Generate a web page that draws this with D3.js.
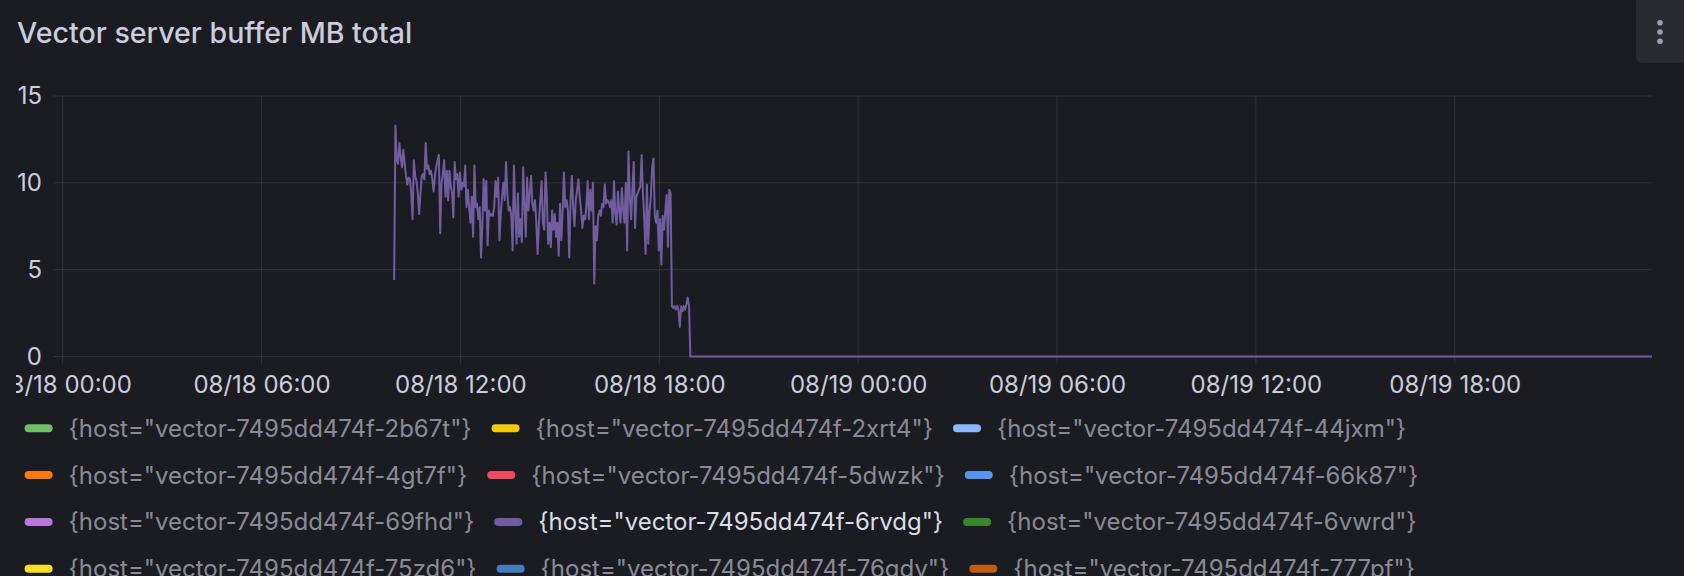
<!DOCTYPE html>
<html lang="en">
<head>
<meta charset="utf-8">
<title>Vector server buffer MB total</title>
<script src="https://cdn.jsdelivr.net/npm/d3@7"></script>
<style>
  html, body { margin: 0; padding: 0; background: #1b1c21; }
  svg { display: block; font-family: Inter, "Noto Sans", sans-serif; }
</style>
</head>
<body>
<div id="chart"></div>
<script>
// panel data
var title = "Vector server buffer MB total";

var hosts = [
  "2b67t", "2xrt4", "44jxm",
  "4gt7f", "5dwzk", "66k87",
  "69fhd", "6rvdg", "6vwrd",
  "75zd6", "76gdv", "777pf"
];
var hostColors = [
  "#73BF69", "#F2CC0C", "#8AB8FF",
  "#FF780A", "#F2495C", "#5794F2",
  "#B877D9", "#705DA0", "#37872D",
  "#FADE2A", "#447EBC", "#C15C17"
];
var activeHost = "6rvdg";

// time range shown and tick labels
var timeRange = ["2023-08-17 23:57", "2023-08-19 23:57"];
var xTicks = ["2023-08-18 00:00", "2023-08-18 06:00", "2023-08-18 12:00", "2023-08-18 18:00",
              "2023-08-19 00:00", "2023-08-19 06:00", "2023-08-19 12:00", "2023-08-19 18:00"];
var yTicks = [0, 5, 10, 15];

// the only series with data (host 6rvdg), sampled every ~143 s from 10:00
var bufferStart = "2023-08-18 10:00";
var bufferStepSec = 143;
var bufferValues = [
  4.4, 13.3, 11.3, 11.1, 12.3, 11.5, 10.9, 11.9, 11.1, 10.4, 9.9, 10.3,
  10.2, 9.4, 7.9, 11.3, 10.4, 10.1, 9.4, 8.2, 9.4, 10.4,
  10.5, 10.2, 12.3, 10.8, 11.0, 10.5, 10.7, 10.2, 9.5, 10.4,
  10.9, 11.3, 11.6, 7.1, 10.0, 10.5, 11.3, 9.2, 10.7, 9.0,
  10.7, 9.8, 9.4, 8.0, 11.2, 10.2, 10.5, 9.2, 10.6, 9.6,
  10.0, 9.8, 11.0, 8.6, 9.6, 8.6, 7.7, 9.2, 6.9, 11.0,
  8.6, 8.8, 7.9, 8.6, 5.7, 7.5, 10.2, 8.4, 10.1, 6.4, 8.4, 8.1,
  8.2, 8.1, 8.6, 10.1, 9.2, 10.3, 6.7, 8.2, 9.2, 10.0,
  9.0, 11.2, 9.4, 8.4, 8.6, 8.1, 6.1, 11.0, 8.4, 6.5,
  9.4, 6.9, 7.9, 6.6, 10.9, 8.8, 6.9, 10.3, 8.4, 9.4,
  10.4, 8.8, 8.4, 9.0, 7.7, 5.9, 7.7, 9.0, 10.1, 7.7,
  7.3, 10.6, 9.2, 6.5, 7.7, 6.3, 8.4, 7.3, 8.2, 6.9,
  7.7, 5.8, 8.8, 6.7, 8.4, 10.6, 8.6, 9.0, 8.4, 5.7,
  9.0, 10.4, 8.6, 7.5, 9.0, 9.6, 10.2, 9.2, 8.4, 7.4,
  8.1, 7.9, 8.6, 10.1,
  7.9, 9.6, 8.4, 10.0, 4.2, 7.5, 6.7, 8.1, 8.4, 8.1,
  8.8, 8.6, 9.9, 8.8, 9.0, 8.9, 8.6, 9.0, 7.7, 10.1,
  8.2, 7.6, 9.5, 8.4, 7.7, 9.7, 8.4, 7.7, 10.0, 6.1,
  11.8, 9.2, 7.9, 9.6, 11.2, 7.4, 9.2, 9.4, 9.6, 9.8,
  11.6, 9.4, 7.9, 5.9, 9.9, 6.5, 8.4, 9.2, 10.9, 11.4,
  8.1, 7.7, 8.4, 6.1, 7.9, 5.3, 8.1, 7.3, 8.4, 9.3,
  6.3, 9.6, 9.4,
  2.9, 2.8, 2.9, 2.7, 2.9, 2.7, 1.7, 2.9, 2.6, 2.9, 2.7, 3.0, 3.4, 2.9,
  0
];
// after the drop the buffer stays empty until the end of the range
var bufferTail = [["2023-08-19 23:57", 0]];

var W = 1684, H = 576;
var plot = {left: 61, right: 1652, top: 96, bottom: 356.5};
var textColor = "#ccccdc";
var gridColor = "rgba(204,204,220,0.12)";

var parse = d3.timeParse("%Y-%m-%d %H:%M");

var svg = d3.select("#chart").append("svg")
  .attr("width", W)
  .attr("height", H);

svg.append("rect").attr("width", W).attr("height", H).attr("fill", "#1b1c21");

// the graph canvas is clipped to the panel's inner area
svg.append("clipPath").attr("id", "canvas-clip")
  .append("rect")
  .attr("x", 16).attr("y", 70)
  .attr("width", W - 32).attr("height", 340);

// title
svg.append("text")
  .attr("x", 17)
  .attr("y", 42.5)
  .attr("fill", textColor)
  .attr("font-size", 28.6)
  .attr("font-weight", 500)
  .text(title);

// menu button (top right)
svg.append("rect")
  .attr("x", 1636).attr("y", -10)
  .attr("width", 60).attr("height", 73)
  .attr("rx", 7)
  .attr("fill", "#2a2b31");
svg.selectAll(".menu-dot")
  .data([22.7, 32, 41.3])
  .enter().append("circle")
  .attr("class", "menu-dot")
  .attr("cx", 1660)
  .attr("cy", function(d) { return d; })
  .attr("r", 2.8)
  .attr("fill", "#9c9daa");

// scales
var x = d3.scaleTime()
  .domain(timeRange.map(parse))
  .range([plot.left, plot.right]);
var y = d3.scaleLinear()
  .domain([0, 15])
  .range([plot.bottom, plot.top]);

var canvas = svg.append("g").attr("clip-path", "url(#canvas-clip)");

// grid
var grid = canvas.append("g");
grid.selectAll(".hgrid")
  .data(yTicks)
  .enter().append("line")
  .attr("x1", plot.left - 8).attr("x2", plot.right)
  .attr("y1", function(d) { return y(d); })
  .attr("y2", function(d) { return y(d); })
  .attr("stroke", gridColor)
  .attr("stroke-width", 1);
grid.selectAll(".vgrid")
  .data(xTicks.map(parse))
  .enter().append("line")
  .attr("x1", function(d) { return x(d); })
  .attr("x2", function(d) { return x(d); })
  .attr("y1", plot.top).attr("y2", plot.bottom + 8)
  .attr("stroke", gridColor)
  .attr("stroke-width", 1);

// axes (labels only, grafana style)
var xAxis = canvas.append("g")
  .attr("transform", "translate(0," + plot.bottom + ")")
  .call(d3.axisBottom(x)
    .tickValues(xTicks.map(parse))
    .tickFormat(d3.timeFormat("%m/%d %H:%M"))
    .tickSize(0)
    .tickPadding(19.5));
var yAxis = canvas.append("g")
  .attr("transform", "translate(" + (plot.left - 19) + ",0)")
  .call(d3.axisLeft(y)
    .tickValues(yTicks)
    .tickSize(0)
    .tickPadding(0));
[xAxis, yAxis].forEach(function(ax) {
  ax.select(".domain").remove();
  ax.selectAll("text")
    .attr("fill", textColor)
    .attr("font-size", 24)
    .attr("font-family", "Inter, 'Noto Sans', sans-serif");
});

// series
var t0 = parse(bufferStart);
var points = bufferValues.map(function(v, i) {
  return [new Date(t0.getTime() + i * bufferStepSec * 1000), v];
});
bufferTail.forEach(function(p) { points.push([parse(p[0]), p[1]]); });

canvas.append("path")
  .datum(points)
  .attr("fill", "none")
  .attr("stroke", hostColors[hosts.indexOf(activeHost)])
  .attr("stroke-width", 2)
  .attr("stroke-linejoin", "round")
  .attr("d", d3.line()
    .x(function(d) { return x(d[0]); })
    .y(function(d) { return y(d[1]); }));

// legend, flowing left to right and wrapping
var legend = svg.append("g");
var lx = 24.6, row = 0, maxX = W - 16;
var rowY = function(r) { return 428.3 + r * 46.8; };
hosts.forEach(function(h, i) {
  var item = legend.append("g");
  var label = item.append("text")
    .attr("x", 28 + 16)
    .attr("y", 8.5)
    .attr("font-size", 24)
    .attr("fill", h === activeHost ? "#dcdce6" : "rgba(204,204,220,0.65)")
    .text('{host="vector-7495dd474f-' + h + '"}');
  var w = 28 + 16 + label.node().getComputedTextLength();
  if (lx > 24.6 && lx + w > maxX) { lx = 24.6; row += 1; }
  item.insert("rect", "text")
    .attr("x", 0).attr("y", -4)
    .attr("width", 28).attr("height", 8)
    .attr("rx", 4)
    .attr("fill", hostColors[i]);
  item.attr("transform", "translate(" + lx + "," + rowY(row) + ")");
  lx += w + 20;
});
</script>
</body>
</html>
